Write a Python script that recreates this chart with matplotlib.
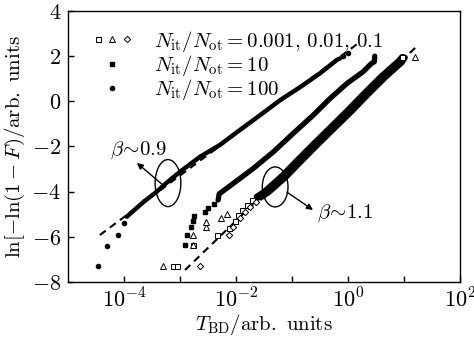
import matplotlib
matplotlib.use("Agg")
import matplotlib.pyplot as plt
from matplotlib.lines import Line2D
from matplotlib.patches import Ellipse
from matplotlib.ticker import NullFormatter
from matplotlib.transforms import ScaledTranslation
from matplotlib.legend_handler import HandlerTuple

plt.rcParams["mathtext.fontset"] = "cm"
plt.rcParams["font.family"] = "serif"
plt.rcParams["font.serif"] = ["cmr10", "DejaVu Serif"]
plt.rcParams["axes.formatter.use_mathtext"] = True

# Nit/Not = 100 : sparse low-tail points and dense Weibull curve
t100_pts = [3.4e-5, 4.9e-5, 7.9e-5, 1.0e-4, 0.80, 1.0]
y100_pts = [-7.29, -6.40, -5.93, -5.38, 2.02, 2.15]
t100_curve = [1.12e-4, 2.24e-4, 3.8e-4, 5.75e-4, 1.0e-3, 2.29e-3, 5.1e-3,
              1.17e-2, 2.7e-2, 6.2e-2, 0.138, 0.316, 0.63, 0.72]
y100_curve = [-5.11, -4.45, -4.01, -3.61, -3.12, -2.45, -1.94,
              -1.27, -0.61, 0.06, 0.62, 1.24, 1.83, 1.90]

# Nit/Not = 10
t10_pts = [1.23e-3, 1.32e-3, 1.58e-3, 1.74e-3, 1.78e-3, 2.8e-3, 3.2e-3, 4.0e-3]
y10_pts = [-6.36, -5.92, -5.57, -5.29, -5.07, -4.89, -4.72, -4.55]
t10_curve = [4.8e-3, 5.0e-3, 8.9e-3, 2.04e-2, 4.68e-2, 0.105, 0.24, 0.48,
             0.955, 1.86, 2.63, 2.95, 3.0]
y10_curve = [-4.37, -4.10, -3.64, -2.97, -2.23, -1.42, -0.61, 0.13,
             0.79, 1.31, 1.68, 1.75, 2.0]

# Nit/Not = 0.001 (open squares)
t001_pts = [7.6e-4, 8.7e-4, 1.7e-3, 4.6e-3, 7.6e-3, 9.5e-3, 1.1e-2, 1.26e-2,
            1.55e-2, 1.9e-2, 9.1]
y001_pts = [-7.29, -7.29, -6.36, -5.92, -5.62, -5.29, -5.03, -4.81,
            -4.59, -4.37, 1.97]
t001_curve = [2.5e-2, 3.5e-2, 7.1e-2, 0.138, 0.275, 0.55, 1.10, 2.14,
              4.27, 8.5, 10.0]
y001_curve = [-4.25, -4.01, -3.34, -2.60, -1.86, -1.13, -0.39, 0.35,
              1.09, 1.75, 1.97]

# Nit/Not = 0.01 (open triangles)
t01_pts = [5.0e-4, 1.7e-3, 1.7e-3, 2.9e-3, 2.9e-3, 5.4e-3, 6.9e-3, 15.8]
y01_pts = [-7.29, -6.36, -5.92, -5.58, -5.33, -5.18, -4.99, 1.96]
t01_curve = [2.3e-2, 3.2e-2, 6.5e-2, 0.126, 0.25, 0.50, 1.0, 1.95,
             3.9, 7.8, 9.2]
y01_curve = [-4.22, -3.98, -3.30, -2.57, -1.83, -1.10, -0.36, 0.38,
             1.12, 1.78, 1.98]

# Nit/Not = 0.1 (open diamonds)
t1_pts = [2.3e-3, 7.6e-3, 8.9e-3, 1.17e-2, 1.45e-2, 1.78e-2, 2.3e-2]
y1_pts = [-7.29, -5.92, -5.55, -5.18, -4.89, -4.67, -4.45]
t1_curve = [2.75e-2, 3.85e-2, 7.8e-2, 0.152, 0.30, 0.60, 1.21, 2.35,
            4.7, 9.3, 10.5]
y1_curve = [-4.28, -4.04, -3.37, -2.63, -1.89, -1.16, -0.42, 0.32,
            1.06, 1.72, 1.94]

# Weibull fit lines
fit_a_t = [3.7e-5, 1.64]
fit_a_y = [-5.92, 2.63]
fit_b_t = [1.23e-3, 17.8]
fit_b_y = [-7.47, 2.49]

labels = [r"$N_{\mathrm{it}}/N_{\mathrm{ot}}=0.001,\,0.01,\,0.1$",
          r"$N_{\mathrm{it}}/N_{\mathrm{ot}}=10$",
          r"$N_{\mathrm{it}}/N_{\mathrm{ot}}=100$"]

FS = 15

fig = plt.figure(figsize=(4.74, 3.38), dpi=100)
ax = fig.add_axes([0.1435, 0.1657, 0.827, 0.8018])
ax.set_xscale("log")

dash = (0, (3.5, 2.5))
ax.plot(fit_a_t, fit_a_y, color="k", lw=1.5, ls=dash, zorder=1)
ax.plot(fit_b_t, fit_b_y, color="k", lw=1.5, ls=dash, zorder=1)

# dense parts of the distributions
ax.plot(t100_curve, y100_curve, color="k", lw=3.2, solid_capstyle="round", zorder=2)
ax.plot(t10_curve, y10_curve, color="k", lw=3.8, solid_capstyle="round", zorder=2)
for tc, yc in [(t001_curve, y001_curve), (t01_curve, y01_curve), (t1_curve, y1_curve)]:
    ax.plot(tc, yc, color="k", lw=3.8, solid_capstyle="round", zorder=2)

# individual points
ax.plot(t100_pts, y100_pts, ls="none", marker="o", ms=3, color="k", zorder=3)
ax.plot(t10_pts, y10_pts, ls="none", marker="s", ms=3.2, color="k", zorder=3)
open_kw = dict(ls="none", mfc="white", mec="k", mew=0.7, zorder=3)
ax.plot(t001_pts, y001_pts, marker="s", ms=3.6, **open_kw)
ax.plot(t01_pts, y01_pts, marker="^", ms=3.8, **open_kw)
ax.plot(t1_pts, y1_pts, marker="D", ms=3.2, **open_kw)

ax.set_xlim(1e-5, 1e2)
ax.set_ylim(-8, 4)
ax.set_xticks([1e-4, 1e-2, 1e0, 1e2])
ax.set_xticklabels([r"$10^{-4}$", r"$10^{-2}$", r"$10^{0}$", r"$10^{2}$"])
ax.set_xticks([1e-3, 1e-1, 1e1], minor=True)
ax.xaxis.set_minor_formatter(NullFormatter())
ax.set_yticks([-8, -6, -4, -2, 0, 2, 4])
ax.set_yticklabels([r"$-8$", r"$-6$", r"$-4$", r"$-2$", r"$0$", r"$2$", r"$4$"])
ax.tick_params(which="both", direction="in", length=4, width=1.0,
               labelsize=16, top=False, right=False)
ax.tick_params(axis="x", pad=4)
ax.tick_params(axis="y", pad=5)
for s in ax.spines.values():
    s.set_linewidth(1.0)

ax.set_xlabel(r"$T_{\mathrm{BD}}/\mathrm{arb.\ units}$", fontsize=FS, labelpad=0)
ax.set_ylabel(r"$\ln[-\ln(1-F)/\mathrm{arb.\ units}$", fontsize=FS, labelpad=3)

# legend
h_sq = Line2D([], [], ls="none", marker="s", ms=3.6, mfc="white", mec="k", mew=0.7)
h_tri = Line2D([], [], ls="none", marker="^", ms=3.8, mfc="white", mec="k", mew=0.7)
h_dia = Line2D([], [], ls="none", marker="D", ms=3.2, mfc="white", mec="k", mew=0.7)
h10 = Line2D([], [], ls="none", marker="s", ms=3.2, color="k")
h100 = Line2D([], [], ls="none", marker="o", ms=3, color="k")
ax.legend([(h_sq, h_tri, h_dia), h10, h100], labels,
          handler_map={tuple: HandlerTuple(ndivide=None, pad=0.5)},
          loc="upper left", bbox_to_anchor=(0.07, 0.935), frameon=False,
          fontsize=FS, handlelength=1.6, handletextpad=1.2,
          labelspacing=-0.03, borderpad=0, borderaxespad=0)

# ellipses marking the fitted regions
for xc, yc, w, h in [(6.1e-4, -3.62, 0.257, 0.47), (0.05, -3.79, 0.257, 0.40)]:
    tr = fig.dpi_scale_trans + ScaledTranslation(xc, yc, ax.transData)
    ax.add_patch(Ellipse((0, 0), w, h, transform=tr, fill=False,
                         ec="k", lw=1.0, zorder=4))

arrow = dict(arrowstyle="-|>", color="k", lw=1.0, shrinkA=0, shrinkB=0,
             mutation_scale=9)
ax.annotate("", xy=(1.7e-4, -2.73), xytext=(5.2e-4, -3.75), arrowprops=arrow)
ax.annotate("", xy=(0.237, -4.81), xytext=(0.081, -4.02), arrowprops=arrow)
ax.text(5.6e-5, -2.16, r"$\beta\!\sim\!0.9$", fontsize=FS, ha="left", va="center")
ax.text(0.28, -4.95, r"$\beta\!\sim\!1.1$", fontsize=FS, ha="left", va="center")

fig.savefig("out.png", dpi=100)
